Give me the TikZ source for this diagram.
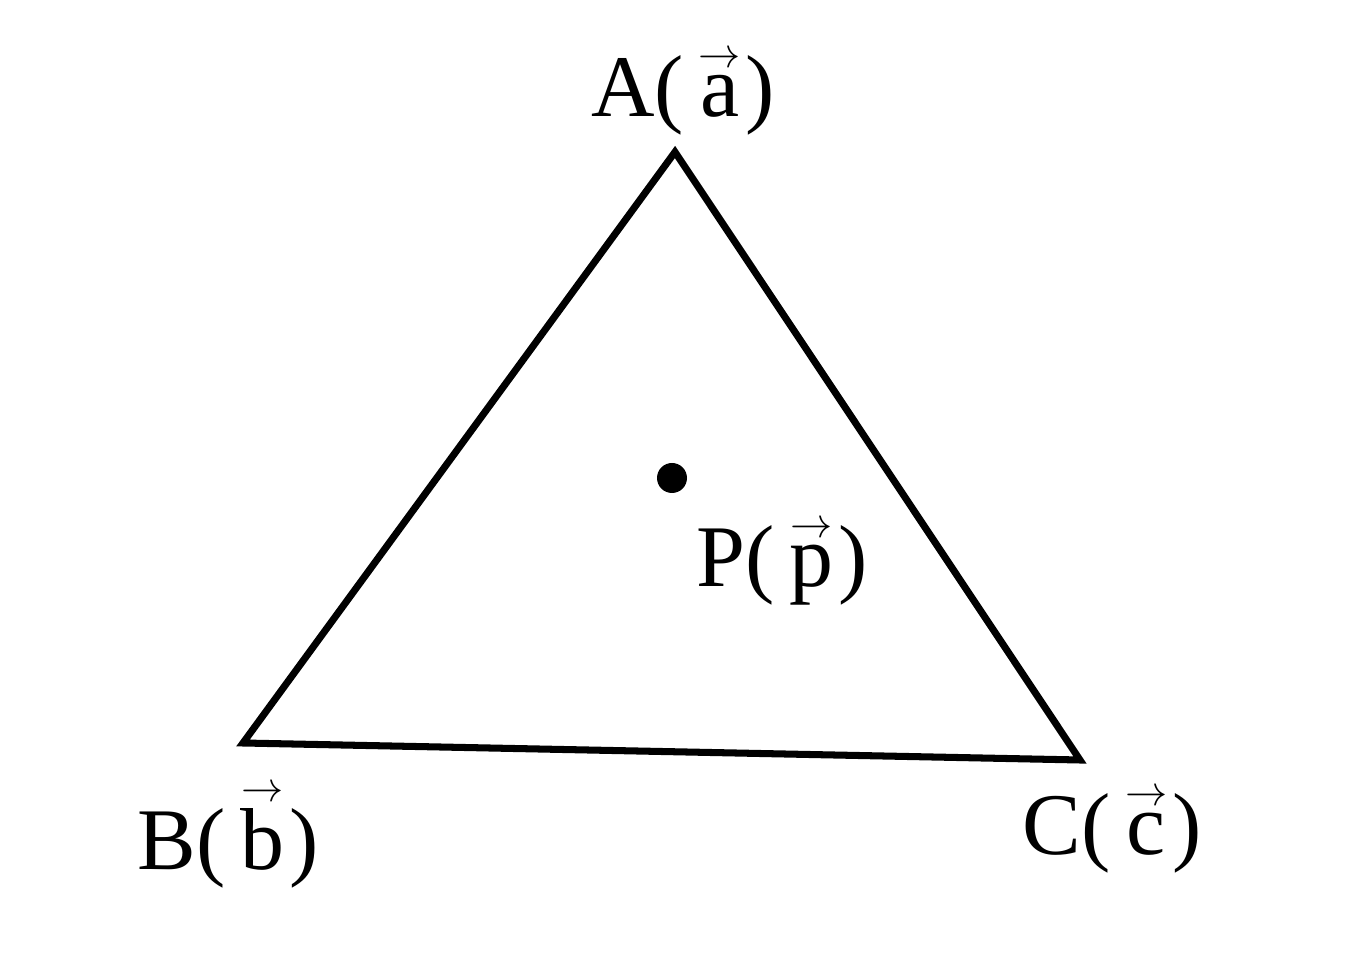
\documentclass[tikz,border=0pt]{standalone}
\usepackage{fontspec}
\setmainfont{Liberation Serif}
\newcommand{\vlab}[1]{$\stackrel{\raisebox{0pt}[\height][0pt]{$\scriptscriptstyle\rightarrow$}}{\hbox{#1}}\mkern1mu$}
\begin{document}
\begin{tikzpicture}[x=0.01cm,y=-0.01cm,
    lab/.style={font=\fontsize{25}{28}\selectfont, inner sep=0pt},
    side/.style={line width=2pt, line join=miter}]
      \useasboundingbox (0,0) rectangle (1350,958);

      \coordinate (a) at (675,152);
      \coordinate (b) at (243,743);
      \coordinate (c) at (1080,760);
      \fill (672,478) circle (15) coordinate (p);

      \node[lab] (a_lab) at (683,92) {A(\,\vlab{a})};
      \node[lab] (b_lab) at (228,835) {B(\,\vlab{b})};
      \node[lab] (c_lab) at (1112,830) {C(\,\vlab{c})};
      \node[lab] (p_lab) at (782,562) {P(\,\vlab{p})};

      \draw[side] (a) -- (b) -- (c) -- cycle;

    \end{tikzpicture}
\end{document}
